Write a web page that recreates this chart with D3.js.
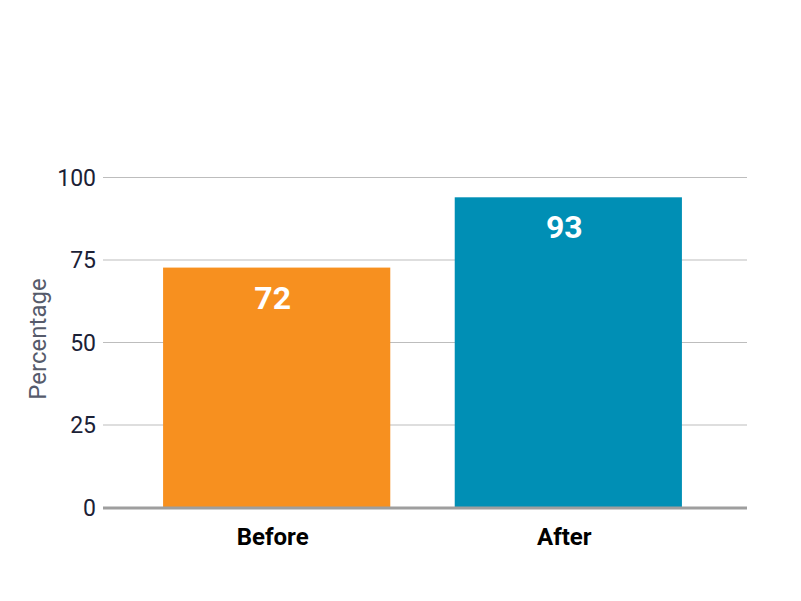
<!DOCTYPE html>
<html>
<head>
<meta charset="utf-8">
<script src="https://cdn.jsdelivr.net/npm/d3@7"></script>
<style>
  body { margin: 0; background: #fff; }
  text { font-family: Roboto, "Noto Sans", sans-serif; }
</style>
</head>
<body>
<div id="chart"></div>
<script>
// chart data
var categories = ['Before', 'After'];
var values = [72.7, 94];
var valueLabels = ['72', '93'];
var barColors = ['#F7901F', '#008FB5'];
var yTicks = [0, 25, 50, 75, 100];

var width = 801,
  height = 601;

var svg = d3.select('#chart')
  .append('svg')
  .attr('width', width)
  .attr('height', height);

var x = d3.scaleBand()
  .domain(categories)
  .range([103, 742])
  .paddingInner(0.221)
  .paddingOuter(0.206);

var y = d3.scaleLinear()
  .domain([0, 100])
  .range([507.5, 177.5]);

// gridlines
svg.append('g')
  .selectAll('line')
  .data(yTicks.filter(function(d) { return d > 0; }))
  .enter().append('line')
  .attr('x1', 103)
  .attr('x2', 747)
  .attr('y1', function(d) { return y(d); })
  .attr('y2', function(d) { return y(d); })
  .attr('stroke', '#bdbdbd')
  .attr('stroke-width', 1);

// tick labels
svg.append('g')
  .selectAll('text')
  .data(yTicks)
  .enter().append('text')
  .attr('x', 96)
  .attr('y', function(d) { return y(d); })
  .attr('dy', '0.36em')
  .attr('text-anchor', 'end')
  .attr('fill', '#1b2136')
  .style('font-size', '23px')
  .text(function(d) { return d; });

// bars
var data = categories.map(function(c, i) {
  return { category: c, value: values[i], label: valueLabels[i], color: barColors[i] };
});

svg.append('g')
  .selectAll('rect')
  .data(data)
  .enter().append('rect')
  .attr('x', function(d) { return x(d.category); })
  .attr('width', x.bandwidth())
  .attr('y', function(d) { return y(d.value); })
  .attr('height', function(d) { return y(0) - y(d.value); })
  .attr('fill', function(d) { return d.color; });

// value labels inside bars
svg.append('g')
  .selectAll('text')
  .data(data)
  .enter().append('text')
  .attr('x', function(d) { return x(d.category) + x.bandwidth() / 2 - 4; })
  .attr('y', function(d) { return y(d.value) + 41; })
  .attr('text-anchor', 'middle')
  .attr('fill', '#fff')
  .style('font-size', '32px')
  .style('font-weight', 'bold')
  .text(function(d) { return d.label; });

// zero line
svg.append('line')
  .attr('x1', 103)
  .attr('x2', 747)
  .attr('y1', y(0) + 0.5)
  .attr('y2', y(0) + 0.5)
  .attr('stroke', '#9e9e9e')
  .attr('stroke-width', 3);

// category labels
svg.append('g')
  .selectAll('text')
  .data(categories)
  .enter().append('text')
  .attr('x', function(d) { return x(d) + x.bandwidth() / 2 - 4; })
  .attr('y', 545)
  .attr('text-anchor', 'middle')
  .attr('fill', '#000')
  .style('font-size', '24px')
  .style('font-weight', 'bold')
  .text(function(d) { return d; });

// y axis title
svg.append('text')
  .attr('transform', 'translate(46, 339) rotate(-90)')
  .attr('text-anchor', 'middle')
  .attr('fill', '#565b6b')
  .style('font-size', '24px')
  .text('Percentage');
</script>
</body>
</html>
